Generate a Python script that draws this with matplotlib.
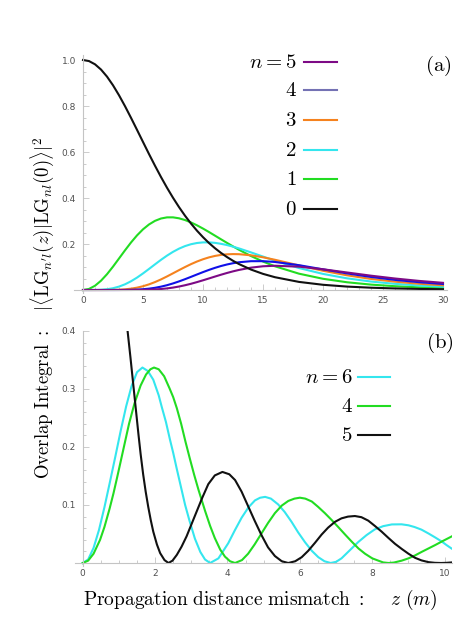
import matplotlib
matplotlib.use("Agg")
import matplotlib.pyplot as plt
from matplotlib.ticker import MultipleLocator

plt.rcParams['mathtext.fontset'] = 'cm'
plt.rcParams['font.family'] = ['DejaVu Sans']

# ---------------- data: panel (a) ----------------
z_a = [0, 0.5, 1, 1.5, 2, 2.5, 3, 3.5, 4, 4.5, 5, 5.5, 6, 6.5, 7, 7.5, 8, 8.5, 9, 9.5, 10, 10.5,
       11, 11.5, 12, 12.5, 13, 14, 15, 16, 18, 20, 22, 24, 26, 28, 30]
a_n0 = [1.0, 0.9953, 0.9813, 0.9585, 0.9278, 0.8901, 0.8468, 0.7993, 0.7487, 0.6965, 0.6437, 0.5912,
        0.5403, 0.4912, 0.4447, 0.4011, 0.3605, 0.3231, 0.2889, 0.2578, 0.2297, 0.2043, 0.1816,
        0.1613, 0.1432, 0.1271, 0.1128, 0.0889, 0.0702, 0.0556, 0.0352, 0.0227, 0.0149, 0.0100,
        0.0068, 0.0047, 0.0033]
a_n1 = [0, 0.0047, 0.0185, 0.0404, 0.0687, 0.1016, 0.1370, 0.1725, 0.2066, 0.2374, 0.2638, 0.2850,
        0.3007, 0.3109, 0.3158, 0.3159, 0.3118, 0.3042, 0.2938, 0.2812, 0.2671, 0.2520, 0.2363,
        0.2205, 0.2049, 0.1896, 0.1749, 0.1477, 0.1237, 0.1031, 0.0710, 0.0488, 0.0337, 0.0235,
        0.0165, 0.0118, 0.0085]
a_n2 = [0, 0, 0.0002, 0.0011, 0.0034, 0.0077, 0.0148, 0.0248, 0.0380, 0.0539, 0.0721, 0.0916,
        0.1116, 0.1312, 0.1495, 0.1659, 0.1798, 0.1909, 0.1991, 0.2044, 0.2070, 0.2071, 0.2050,
        0.2009, 0.1954, 0.1885, 0.1808, 0.1635, 0.1454, 0.1275, 0.0955, 0.0700, 0.0508, 0.0368,
        0.0268, 0.0196, 0.0145]
a_n3 = [0, 0, 0, 0, 0.0001, 0.0005, 0.0013, 0.0030, 0.0058, 0.0102, 0.0164, 0.0245,
        0.0345, 0.0461, 0.0590, 0.0726, 0.0864, 0.0998, 0.1125, 0.1239, 0.1337, 0.1419, 0.1482,
        0.1526, 0.1552, 0.1562, 0.1557, 0.1509, 0.1423, 0.1314, 0.1070, 0.0836, 0.0639, 0.0482,
        0.0362, 0.0272, 0.0205]
a_n4 = [0, 0, 0, 0, 0, 0, 0.0001, 0.0003, 0.0008, 0.0017, 0.0034, 0.0059,
        0.0096, 0.0146, 0.0209, 0.0286, 0.0374, 0.0470, 0.0572, 0.0676, 0.0778, 0.0875, 0.0964,
        0.1043, 0.1110, 0.1165, 0.1207, 0.1253, 0.1254, 0.1219, 0.1079, 0.0899, 0.0722, 0.0567,
        0.0440, 0.0340, 0.0262]
a_n5 = [0, 0, 0, 0, 0, 0, 0, 0, 0.0001, 0.0003, 0.0006, 0.0013,
        0.0025, 0.0043, 0.0069, 0.0105, 0.0151, 0.0207, 0.0271, 0.0344, 0.0422, 0.0503, 0.0585,
        0.0665, 0.0741, 0.0811, 0.0873, 0.0972, 0.1032, 0.1055, 0.1015, 0.0902, 0.0762, 0.0623,
        0.0500, 0.0396, 0.0312]
a_labels = [r'$n=5$', r'$4$', r'$3$', r'$2$', r'$1$', r'$0$']

# ---------------- data: panel (b) ----------------
zb_6 = [0, 0.15, 0.3, 0.45, 0.6, 0.75, 0.9, 1.05, 1.2, 1.35, 1.5, 1.65, 1.8, 1.95, 2.1, 2.18, 2.3,
        2.41, 2.5, 2.6, 2.7, 2.83, 2.95, 3.1, 3.25, 3.38, 3.52, 3.75, 4.02, 4.2, 4.39, 4.58, 4.76,
        4.9, 5.04, 5.2, 5.40, 5.58, 5.77, 5.95, 6.14, 6.33, 6.51, 6.68, 6.85, 7.0, 7.15, 7.38, 7.61,
        7.84, 8.07, 8.3, 8.54, 8.81, 9.0, 9.17, 9.36, 9.55, 9.74, 9.92, 10.05, 10.19]
b_n6 = [0, 0.006, 0.026, 0.057, 0.096, 0.139, 0.183, 0.228, 0.270, 0.305, 0.329, 0.337, 0.331,
        0.316, 0.289, 0.270, 0.243, 0.213, 0.190, 0.162, 0.135, 0.100, 0.073, 0.042, 0.019, 0.006,
        0, 0.008, 0.034, 0.056, 0.078, 0.096, 0.108, 0.1125, 0.114, 0.111, 0.101, 0.088, 0.071,
        0.053, 0.036, 0.021, 0.010, 0.003, 0, 0.002, 0.008, 0.022, 0.036, 0.048, 0.058, 0.0635,
        0.0665, 0.0667, 0.065, 0.062, 0.0575, 0.051, 0.044, 0.037, 0.031, 0.025]
zb_4 = [0, 0.15, 0.3, 0.48, 0.6, 0.74, 0.85, 0.96, 1.12, 1.28, 1.43, 1.6, 1.75, 1.87, 1.97, 2.1,
        2.25, 2.4, 2.5, 2.6, 2.72, 2.84, 2.96, 3.08, 3.2, 3.38, 3.52, 3.65, 3.8, 3.93, 4.07, 4.21,
        4.4, 4.57, 4.75, 4.94, 5.12, 5.31, 5.5, 5.68, 5.85, 6.0, 6.15, 6.33, 6.5, 6.69, 6.88, 7.06,
        7.25, 7.43, 7.62, 7.80, 8.0, 8.17, 8.3, 8.45, 8.6, 8.81, 9.0, 9.18, 9.36, 9.55, 9.74, 9.92,
        10.2]
b_n4 = [0, 0.004, 0.016, 0.040, 0.062, 0.093, 0.120, 0.150, 0.195, 0.240, 0.275, 0.306, 0.325,
        0.334, 0.337, 0.334, 0.322, 0.301, 0.286, 0.267, 0.240, 0.209, 0.180, 0.152, 0.126, 0.090,
        0.064, 0.043, 0.023, 0.011, 0.003, 0, 0.005, 0.016, 0.032, 0.051, 0.069, 0.086, 0.099,
        0.107, 0.111, 0.1126, 0.111, 0.106, 0.097, 0.086, 0.074, 0.062, 0.049, 0.037, 0.025, 0.016,
        0.008, 0.004, 0.001, 0, 0.0008, 0.004, 0.008, 0.013, 0.019, 0.025, 0.031, 0.037, 0.046]
zb_5 = [1.24, 1.32, 1.40, 1.47, 1.54, 1.60, 1.67, 1.74, 1.81, 1.88, 1.95, 2.05, 2.14, 2.26, 2.37,
        2.48, 2.6, 2.73, 2.87, 3.0, 3.15, 3.3, 3.47, 3.65, 3.86, 4.05, 4.21, 4.39, 4.57, 4.75, 4.94,
        5.12, 5.31, 5.5, 5.68, 5.87, 6.05, 6.23, 6.42, 6.6, 6.78, 6.97, 7.15, 7.33, 7.52, 7.7, 7.89,
        8.07, 8.26, 8.45, 8.63, 8.82, 9.0, 9.18, 9.36, 9.55, 9.73, 9.9, 10.05, 10.2]
b_n5 = [0.40, 0.354, 0.306, 0.264, 0.222, 0.188, 0.153, 0.123, 0.097, 0.074, 0.054, 0.032, 0.017,
        0.005, 0, 0.004, 0.014, 0.028, 0.046, 0.066, 0.089, 0.112, 0.136, 0.151, 0.157, 0.153,
        0.143, 0.123, 0.098, 0.073, 0.048, 0.027, 0.012, 0.003, 0, 0.003, 0.010, 0.021, 0.035,
        0.049, 0.061, 0.071, 0.077, 0.080, 0.081, 0.079, 0.073, 0.064, 0.054, 0.043, 0.033, 0.024,
        0.016, 0.009, 0.0045, 0.0015, 0.0003, 0, 0.0003, 0.001]
b_labels = [r'$n=6$', r'$4$', r'$5$']

# ---------------- styling ----------------
C_PURPLE = '#7d0a85'
C_BLUE = '#1010e8'
C_LEG4 = '#7472b4'
C_ORANGE = '#f5821e'
C_CYAN = '#34e6ee'
C_GREEN = '#22dc22'
C_BLACK = '#111111'
AX_COL = '#c4c4c4'
TICK_TXT = '#505050'
LW = 1.5

fig = plt.figure(figsize=(4.74, 6.27), dpi=100)
W, H = 474.0, 627.0


def style_axes(ax):
    for s in ['top', 'right']:
        ax.spines[s].set_visible(False)
    ax.spines['left'].set_position(('data', 0))
    ax.spines['bottom'].set_position(('data', 0))
    for s in ['left', 'bottom']:
        ax.spines[s].set_color(AX_COL)
        ax.spines[s].set_linewidth(0.8)
    ax.tick_params(which='both', direction='in', color=AX_COL, labelcolor=TICK_TXT,
                   labelsize=6.5, width=0.6)
    ax.tick_params(which='major', length=4)
    ax.tick_params(which='minor', length=2)
    ax.tick_params(axis='x', pad=4)
    ax.tick_params(axis='y', pad=5)
    ax.set_facecolor('none')


# ---- panel (a)
axa = fig.add_axes([74 / W, (H - 293) / H, 373.2 / W, 237.6 / H])
axa.set_xlim(-0.75, 30.35)
axa.set_ylim(-0.013, 1.02)
style_axes(axa)
axa.set_xticks([0, 5, 10, 15, 20, 25, 30])
axa.set_xticklabels(['0', '5', '10', '15', '20', '25', '30'])
axa.set_yticks([0.2, 0.4, 0.6, 0.8, 1.0])
axa.set_yticklabels(['0.2', '0.4', '0.6', '0.8', '1.0'])
axa.xaxis.set_minor_locator(MultipleLocator(1))
axa.yaxis.set_minor_locator(MultipleLocator(0.05))

axa.plot(z_a, a_n1, color=C_GREEN, lw=LW)
axa.plot(z_a, a_n2, color=C_CYAN, lw=LW)
axa.plot(z_a, a_n3, color=C_ORANGE, lw=LW)
axa.plot(z_a, a_n4, color=C_BLUE, lw=LW)
axa.plot(z_a, a_n5, color=C_PURPLE, lw=LW)
axa.plot(z_a, a_n0, color=C_BLACK, lw=LW)

leg_cols_a = [C_PURPLE, C_LEG4, C_ORANGE, C_CYAN, C_GREEN, C_BLACK]
rows_a = [0.9735, 0.8544, 0.7281, 0.6019, 0.4785, 0.3535]
for lab, col, yy in zip(a_labels, leg_cols_a, rows_a):
    axa.text(0.597, yy, lab, transform=axa.transAxes, ha='right', va='center', fontsize=15)
    axa.plot([0.617, 0.704], [yy, yy], transform=axa.transAxes, color=col, lw=LW, clip_on=False)
axa.text(1.012, 0.957, r'$\mathrm{(a)}$', transform=axa.transAxes, ha='right', va='center', fontsize=15)

# ---- panel (b)
axb = fig.add_axes([75.1 / W, (H - 565.9) / H, 376.8 / W, 234.9 / H])
axb.set_xlim(-0.21, 10.2)
axb.set_ylim(-0.005, 0.4)
style_axes(axb)
axb.set_xticks([0, 2, 4, 6, 8, 10])
axb.set_xticklabels(['0', '2', '4', '6', '8', '10'])
axb.set_yticks([0.1, 0.2, 0.3, 0.4])
axb.set_yticklabels(['0.1', '0.2', '0.3', '0.4'])
axb.xaxis.set_minor_locator(MultipleLocator(0.5))
axb.yaxis.set_minor_locator(MultipleLocator(0.02))

axb.plot(zb_6, b_n6, color=C_CYAN, lw=LW)
axb.plot(zb_4, b_n4, color=C_GREEN, lw=LW)
axb.plot(zb_5, b_n5, color=C_BLACK, lw=LW)

leg_cols_b = [C_CYAN, C_GREEN, C_BLACK]
rows_b = [0.8054, 0.6807, 0.5572]
for lab, col, yy in zip(b_labels, leg_cols_b, rows_b):
    axb.text(0.737, yy, lab, transform=axb.transAxes, ha='right', va='center', fontsize=15)
    axb.plot([0.7516, 0.8357], [yy, yy], transform=axb.transAxes, color=col, lw=LW, clip_on=False)
axb.text(1.004, 0.948, r'$\mathrm{(b)}$', transform=axb.transAxes, ha='right', va='center', fontsize=15)

# ---- shared labels
fig.text(42 / W, 1 - 308 / H,
         r'$\mathrm{Overlap\ Integral\ :}\quad|\langle\mathrm{LG}_{n^{\prime}l}(z)|\mathrm{LG}_{nl}(0)\rangle|^2$',
         rotation=90, ha='center', va='center', fontsize=13.5)
fig.text(260 / W, 1 - 600 / H,
         r'$\mathrm{Propagation\ distance\ mismatch\ :}\quad\ z\ (m)$',
         ha='center', va='center', fontsize=14)

fig.savefig('out.png', dpi=100, facecolor='white')
